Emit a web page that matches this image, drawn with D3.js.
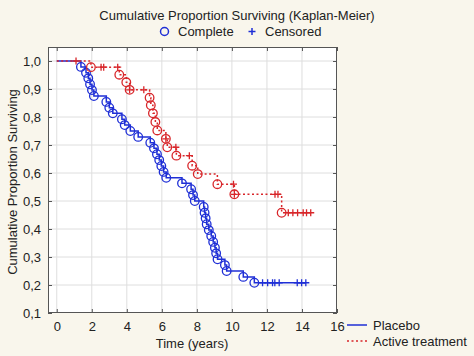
<!DOCTYPE html>
<html><head><meta charset="utf-8">
<script src="https://cdn.jsdelivr.net/npm/d3@7"></script>
<style>
html,body{margin:0;padding:0;background:#f9f6ec;}
svg{display:block;font-family:"Liberation Sans",Arial,sans-serif;}
</style></head><body>
<svg id="chart" width="474" height="356"></svg>
<script>
// ---- data ----
const xTicks = [0, 2, 4, 6, 8, 10, 12, 14, 16];
const xTickLabels = ["0", "2", "4", "6", "8", "10", "12", "14", "16"];
const yTicks = [0.1, 0.2, 0.3, 0.4, 0.5, 0.6, 0.7, 0.8, 0.9, 1.0];
const yTickLabels = ["0,1", "0,2", "0,3", "0,4", "0,5", "0,6", "0,7", "0,8", "0,9", "1,0"];
const seriesNames = ["Placebo", "Active treatment"];

// Placebo: time, survival, type (c = complete, + = censored)
const placeboTime = [1.38, 1.67, 1.80, 1.90, 2.01, 2.12, 2.83, 3.00, 3.20, 3.72, 3.88, 4.20, 4.65,
  5.34, 5.55, 5.72, 5.85, 5.97, 6.10, 6.25, 7.15, 7.67, 7.78, 7.88,
  8.39, 8.44, 8.50, 8.56, 8.68, 8.82, 8.93, 9.03, 9.10, 9.18, 9.60, 9.70, 10.65, 11.28,
  11.75, 12.04, 12.32, 12.45, 12.70, 13.73, 13.98, 14.22];
const placeboSurv = [0.979, 0.958, 0.938, 0.917, 0.896, 0.875, 0.854, 0.833, 0.813, 0.792, 0.771, 0.750, 0.729,
  0.708, 0.688, 0.667, 0.646, 0.625, 0.604, 0.583, 0.563, 0.542, 0.521, 0.500,
  0.479, 0.458, 0.438, 0.417, 0.396, 0.375, 0.354, 0.333, 0.313, 0.292, 0.271, 0.250, 0.229, 0.208,
  0.208, 0.208, 0.208, 0.208, 0.208, 0.208, 0.208, 0.208];
const placeboType = ["c","c","c","c","c","c","c","c","c","c","c","c","c",
  "c","c","c","c","c","c","c","c","c","c","c",
  "c","c","c","c","c","c","c","c","c","c","c","c","c","c",
  "+","+","+","+","+","+","+","+"];

const activeTime = [1.10, 1.95, 2.53, 2.68, 3.48, 3.57, 3.97, 4.16, 4.16, 4.97,
  5.30, 5.37, 5.49, 5.63, 5.74, 6.23, 6.23, 6.31, 6.80, 6.83, 7.57, 7.73, 8.05, 9.17,
  10.09, 10.14, 10.14, 12.46, 12.63, 12.84, 13.22, 13.48, 13.75, 14.07, 14.26, 14.50];
const activeSurv = [1.000, 0.978, 0.978, 0.978, 0.978, 0.951, 0.924, 0.897, 0.897, 0.897,
  0.869, 0.842, 0.813, 0.782, 0.752, 0.722, 0.722, 0.692, 0.692, 0.662, 0.662, 0.626, 0.596, 0.560,
  0.560, 0.524, 0.524, 0.524, 0.524, 0.458, 0.458, 0.458, 0.458, 0.458, 0.458, 0.458];
const activeType = ["+","c","+","+","+","c","c","c","+","+",
  "c","c","c","c","c","c","+","c","+","c","+","c","c","c",
  "+","c","+","+","+","c","+","+","+","+","+","+"];

// ---- layout ----
const blue = "#1f2fd6", red = "#d8262a";
const svg = d3.select("#chart");
const L = 48, R = 337, T = 47, B = 313;
const x = d3.scaleLinear().domain([-0.5, 16]).range([L, R]);
const y = d3.scaleLinear().domain([0.1, 1.05]).range([B, T]);

svg.append("rect").attr("x", L).attr("y", T).attr("width", R - L).attr("height", B - T).attr("fill", "#fff");

// grid
const g = svg.append("g");
g.selectAll("line.vg").data(xTicks.filter(d => d < 16)).enter().append("line")
  .attr("x1", d => x(d)).attr("x2", d => x(d)).attr("y1", T).attr("y2", B)
  .attr("stroke", "#dedede").attr("stroke-width", 1);
g.selectAll("line.hg").data(yTicks.filter(d => d > 0.1)).enter().append("line")
  .attr("x1", L).attr("x2", R).attr("y1", d => y(d)).attr("y2", d => y(d))
  .attr("stroke", "#dedede").attr("stroke-width", 1);

// axes with inward ticks
const axB = d3.axisBottom(x).tickValues(xTicks).tickSize(-4).tickPadding(9).tickFormat((d, i) => xTickLabels[i]);
const axT = d3.axisTop(x).tickValues(xTicks).tickSize(-4).tickFormat("");
const axLft = d3.axisLeft(y).tickValues(yTicks).tickSize(-4).tickPadding(7).tickFormat((d, i) => yTickLabels[i]);
const axRt = d3.axisRight(y).tickValues(yTicks).tickSize(-4).tickFormat("");
function style(sel) {
  sel.select(".domain").remove();
  sel.selectAll(".tick line").attr("stroke", "#555");
  sel.selectAll("text").attr("fill", "#222").style("font-size", "13px").style("font-family", '"Liberation Sans",Arial,sans-serif');
}
svg.append("g").attr("transform", `translate(0,${B})`).call(axB).call(style);
svg.append("g").attr("transform", `translate(0,${T})`).call(axT).call(style);
svg.append("g").attr("transform", `translate(${L},0)`).call(axLft).call(style);
svg.append("g").attr("transform", `translate(${R},0)`).call(axRt).call(style);

svg.append("rect").attr("x", L + 0.5).attr("y", T + 0.5).attr("width", R - L - 1).attr("height", B - T - 1)
  .attr("fill", "none").attr("stroke", "#555").attr("stroke-width", 1);

// series
function build(times, surv, types) {
  const pts = [{t: 0, s: 1, type: "start"}];
  times.forEach((t, i) => pts.push({t: t, s: surv[i], type: types[i]}));
  return pts;
}
const placebo = build(placeboTime, placeboSurv, placeboType);
const active = build(activeTime, activeSurv, activeType);
const line = d3.line().x(d => x(d.t)).y(d => y(d.s)).curve(d3.curveStepAfter);

function drawSeries(pts, color, dash) {
  const gg = svg.append("g");
  gg.append("path").datum(pts).attr("d", line).attr("fill", "none")
    .attr("stroke", color).attr("stroke-width", 1.5)
    .attr("stroke-dasharray", dash || null);
  gg.selectAll("circle").data(pts.filter(d => d.type === "c")).enter().append("circle")
    .attr("cx", d => x(d.t)).attr("cy", d => y(d.s)).attr("r", 4.3)
    .attr("fill", "none").attr("stroke", color).attr("stroke-width", 1.3);
  const cz = pts.filter(d => d.type === "+");
  gg.selectAll("path.plus").data(cz).enter().append("path")
    .attr("d", d => { const px = x(d.t), py = y(d.s); return `M${px - 3.5},${py}H${px + 3.5}M${px},${py - 3.5}V${py + 3.5}`; })
    .attr("stroke", color).attr("stroke-width", 1.3).attr("fill", "none");
}
drawSeries(placebo, blue, null);
drawSeries(active, red, "2,2.5");

// titles
const txt = (xx, yy, s, anchor) => svg.append("text").attr("x", xx).attr("y", yy).attr("text-anchor", anchor || "start")
  .attr("fill", "#222").style("font-size", "13px").text(s);
txt(237, 20, "Cumulative Proportion Surviving (Kaplan-Meier)", "middle");
svg.append("circle").attr("cx", 164.5).attr("cy", 31.5).attr("r", 4).attr("fill", "none").attr("stroke", blue).attr("stroke-width", 1.5);
txt(178, 36, "Complete");
svg.append("path").attr("d", "M248.5,31.5H255.5M252,28V35").attr("stroke", blue).attr("stroke-width", 1.5);
txt(265, 36, "Censored");
txt(192, 348, "Time (years)", "middle");
svg.append("text").attr("transform", `translate(17,${(T + B) / 2 + 2}) rotate(-90)`).attr("text-anchor", "middle")
  .attr("fill", "#222").style("font-size", "13px").text("Cumulative Proportion Surviving");

// series legend
svg.append("line").attr("x1", 347).attr("x2", 367).attr("y1", 325).attr("y2", 325).attr("stroke", blue).attr("stroke-width", 1.5);
txt(373, 329.5, seriesNames[0]);
svg.append("line").attr("x1", 347).attr("x2", 367).attr("y1", 341).attr("y2", 341).attr("stroke", red).attr("stroke-width", 1.5).attr("stroke-dasharray", "2,2.5");
txt(373, 345.5, seriesNames[1]);
</script>
</body></html>
